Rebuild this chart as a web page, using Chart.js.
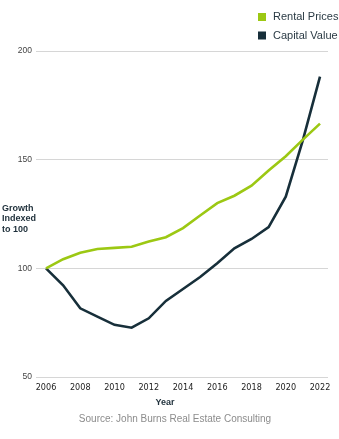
<!DOCTYPE html>
<html>
<head>
<meta charset="utf-8">
<script src="https://cdn.jsdelivr.net/npm/chart.js@4"></script>
<style>
  html, body { margin: 0; padding: 0; background: #fff; }
  .wrap { position: relative; width: 339px; height: 439px; }
</style>
</head>
<body>
<div class="wrap">
  <canvas id="growth" role="img" aria-label="Rental prices and capital value, indexed to 100 in 2006"></canvas>
</div>
<script>
const years = [2006, 2007, 2008, 2009, 2010, 2011, 2012, 2013, 2014, 2015, 2016, 2017, 2018, 2019, 2020, 2021, 2022];
const rentalPrices = [100, 104.2, 107.2, 108.9, 109.4, 109.9, 112.3, 114.3, 118.5, 124.3, 130, 133.4, 138, 145, 151.6, 159.2, 166.6];
const capitalValue = [100, 92.2, 81.6, 77.8, 74, 72.7, 77, 85, 90.5, 96, 102.3, 109.2, 113.5, 119, 133, 159, 188.2];
const yearTicks = [2006, 2008, 2010, 2012, 2014, 2016, 2018, 2020, 2022];
const valueTicks = [50, 100, 150, 200];

const GREEN = '#9cc813';
const NAVY = '#172f3a';
const INK = '#1e2f3a';

const toPoints = vals => vals.map((v, i) => ({ x: years[i], y: v }));

// legend, axis titles and source line, drawn straight onto the canvas
const annotations = {
  id: 'annotations',
  afterDraw(chart) {
    const ctx = chart.ctx;
    ctx.save();
    ctx.textBaseline = 'middle';

    // stacked legend, top right
    ctx.font = '11px "Liberation Sans", Arial, sans-serif';
    chart.data.datasets.forEach((ds, i) => {
      const cy = 17 + i * 18.5;
      ctx.fillStyle = ds.borderColor;
      ctx.fillRect(258, cy - 4, 8, 8);
      ctx.fillStyle = '#2a3a44';
      ctx.textAlign = 'left';
      ctx.fillText(ds.label, 273, cy);
    });

    // y-axis title, horizontal on the left
    ctx.textBaseline = 'alphabetic';
    ctx.font = 'bold 9px "Liberation Sans", Arial, sans-serif';
    ctx.fillStyle = INK;
    ['Growth', 'Indexed', 'to 100'].forEach((line, i) => {
      ctx.fillText(line, 2, 211 + i * 10.4);
    });

    // x-axis title
    ctx.textAlign = 'center';
    ctx.fillText('Year', 165, 405);

    // source
    ctx.font = '10px "Liberation Sans", Arial, sans-serif';
    ctx.fillStyle = '#8c8c8c';
    ctx.fillText('Source: John Burns Real Estate Consulting', 175, 422);
    ctx.restore();
  }
};

new Chart(document.getElementById('growth'), {
  type: 'line',
  data: {
    datasets: [
      {
        label: 'Rental Prices',
        data: toPoints(rentalPrices),
        borderColor: GREEN,
        backgroundColor: GREEN,
        borderWidth: 2.6,
        pointRadius: 0,
        tension: 0
      },
      {
        label: 'Capital Value',
        data: toPoints(capitalValue),
        borderColor: NAVY,
        backgroundColor: NAVY,
        borderWidth: 2.6,
        pointRadius: 0,
        tension: 0
      }
    ]
  },
  options: {
    responsive: true,
    maintainAspectRatio: false,
    animation: false,
    layout: { padding: { top: 51, right: 11, bottom: 0, left: 0 } },
    plugins: {
      legend: { display: false },
      tooltip: { enabled: false }
    },
    scales: {
      x: {
        type: 'linear',
        min: 2005.416,
        max: 2022.467,
        afterBuildTicks: s => { s.ticks = yearTicks.map(v => ({ value: v })); },
        afterFit: s => { s.height = 62; },
        grid: { display: false, drawTicks: false },
        border: { display: false },
        ticks: {
          padding: 5,
          maxRotation: 0,
          autoSkip: false,
          color: '#222',
          font: { family: '"Liberation Sans Narrow", "DejaVu Sans Condensed", sans-serif', size: 9 },
          callback: v => String(v)
        }
      },
      y: {
        min: 50,
        max: 200,
        afterBuildTicks: s => { s.ticks = valueTicks.map(v => ({ value: v })); },
        afterFit: s => { s.width = 36; },
        grid: { color: '#d6d6d6', lineWidth: 1, drawTicks: false },
        border: { display: false },
        ticks: {
          padding: 4,
          color: '#444',
          font: { family: '"Liberation Sans", Arial, sans-serif', size: 8.5 }
        }
      }
    }
  },
  plugins: [annotations]
});
</script>
</body>
</html>
